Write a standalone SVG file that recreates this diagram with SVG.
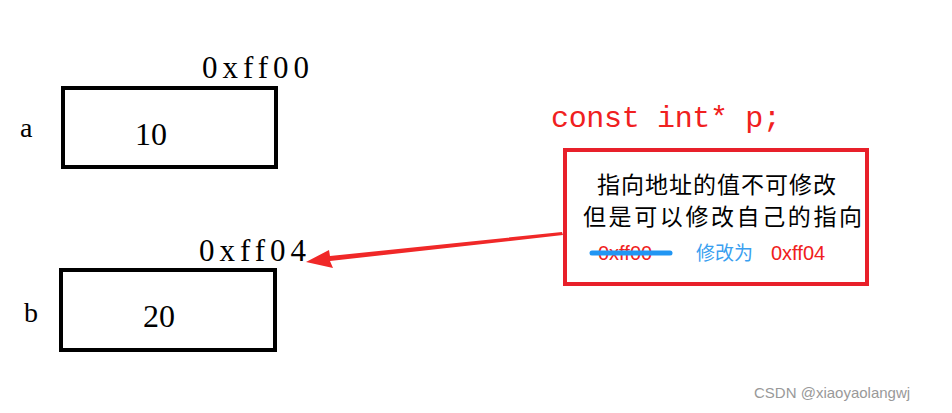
<svg xmlns="http://www.w3.org/2000/svg" width="952" height="413" viewBox="0 0 952 413">
<style>
.box{fill:none;stroke:#000;stroke-width:4}
.serif{font-family:"Liberation Serif",serif;fill:#000}
.cn{font-family:"Noto Sans CJK SC",sans-serif;font-size:23px;fill:#000}
</style>
<rect width="952" height="413" fill="#fff"/>
<g id="a">
<text class="serif" x="20" y="137" font-size="28">a</text>
<rect class="box" x="63" y="88" width="213" height="79"/>
<text class="serif" x="135" y="145" font-size="32">10</text>
<text class="serif" x="202" y="78" font-size="31" textLength="107">0xff00</text>
</g>
<g id="b">
<text class="serif" x="24" y="322" font-size="28">b</text>
<rect class="box" x="61" y="270" width="214" height="80"/>
<text class="serif" x="143" y="327" font-size="32">20</text>
<text class="serif" x="199" y="261" font-size="31" textLength="107">0xff04</text>
</g>
<g id="p">
<text x="551" y="127" font-family="Liberation Mono,monospace" font-size="30" fill="#f02020" textLength="230">const int* p;</text>
<rect x="565" y="150" width="302" height="134" fill="none" stroke="#e8202a" stroke-width="4"/>
<text class="cn" x="597" y="193" textLength="239">指向地址的值不可修改</text>
<text class="cn" x="583" y="225" textLength="279">但是可以修改自己的指向</text>
<text x="598" y="260" font-family="Liberation Sans,sans-serif" font-size="20" fill="#f02020">0xff00</text>
<line x1="592" y1="253" x2="670" y2="253" stroke="#2196f3" stroke-width="5" stroke-linecap="round"/>
<text x="696" y="260" font-family="Noto Sans CJK SC,sans-serif" font-size="19" fill="#3aa0f0">修改为</text>
<text x="771" y="260" font-family="Liberation Sans,sans-serif" font-size="20" fill="#f02020">0xff04</text>
</g>
<g id="connectors">
<polygon points="562,232 563,235 330,261 333,268 306,262 329,250 330,256" fill="#f02828"/>
</g>
<text x="754" y="398" font-family="Liberation Sans,sans-serif" font-size="15" fill="#999">CSDN @xiaoyaolangwj</text>
</svg>
